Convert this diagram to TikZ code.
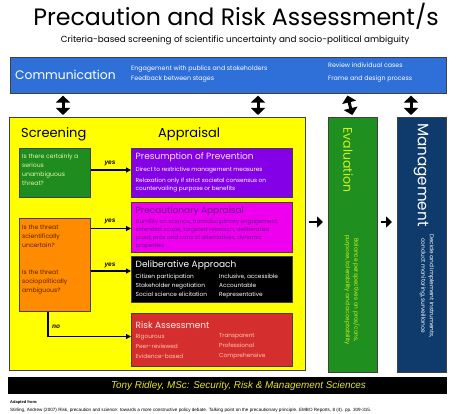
\documentclass[tikz,border=0pt]{standalone}
\usepackage{fontspec}
\setmainfont{Poppins}
\newfontfamily\arialf{Liberation Sans}
\usetikzlibrary{arrows.meta}
\definecolor{commblue}{HTML}{2F6FD8}
\definecolor{ybg}{HTML}{FFFF00}
\definecolor{qgreen}{HTML}{1E8C1E}
\definecolor{qorange}{HTML}{FF8C00}
\definecolor{ppurple}{HTML}{8400E6}
\definecolor{pmag}{HTML}{EE00EE}
\definecolor{rred}{HTML}{D42E2E}
\definecolor{egreen}{HTML}{1F8F1F}
\definecolor{mnavy}{HTML}{0E3A6C}
\definecolor{qtext}{HTML}{E8F5B0}
\definecolor{otext}{HTML}{5A1E00}
\definecolor{magtext}{HTML}{6A1090}
\definecolor{redtext}{HTML}{FFC8B0}
\definecolor{evtext}{HTML}{D0F020}
\definecolor{foottext}{HTML}{E6E62A}
\begin{document}
\begin{tikzpicture}[x=1pt,y=-1pt,
  box/.style={draw=black!75, line width=0.6pt, anchor=north west, inner sep=0pt},
  txt/.style={inner sep=0pt, anchor=west},
  ml/.style={inner sep=0pt, anchor=north west, align=left},
  conn/.style={line width=1.1pt, -{Triangle[width=5pt,length=5pt]}},
  dbl/.style={line width=3pt, {Triangle[width=14pt,length=7pt]}-{Triangle[width=14pt,length=7pt]}, shorten <=2pt, shorten >=2pt},
  fwd/.style={line width=2.6pt, -{Triangle[width=11pt,length=6pt]}, shorten <=3pt, shorten >=5pt},
  yeslbl/.style={inner sep=0pt, font=\arialf\fontsize{6.5}{7}\selectfont\bfseries\itshape}]
\useasboundingbox[fill=white] (0,0) rectangle (474,414);

% title
\node[inner sep=0pt, font=\fontsize{23.7}{26}\selectfont] (title) at (236,16) {Precaution and Risk Assessment/s};
\node[inner sep=0pt, font=\fontsize{8.8}{10}\selectfont] (subtitle) at (235,40) {Criteria-based screening of scientific uncertainty and socio-political ambiguity};

% communication bar
\node[box, fill=commblue, minimum width=436pt, minimum height=36pt] (comm) at (10,57) {};
\node[txt, text=white, font=\fontsize{12.3}{14}\selectfont] (commlbl) at (15,75) {Communication};
\node[txt, text=white, font=\fontsize{6.3}{7}\selectfont] (c1) at (131,69) {Engagement with publics and stakeholders};
\node[txt, text=white, font=\fontsize{6.3}{7}\selectfont] (c2) at (131,79) {Feedback between stages};
\node[txt, text=white, font=\fontsize{6.3}{7}\selectfont] (c3) at (328,65.5) {Review individual cases};
\node[txt, text=white, font=\fontsize{6.3}{7}\selectfont] (c4) at (328,79) {Frame and design process};

% yellow area
\node[box, fill=ybg, minimum width=296pt, minimum height=253pt] (yellow) at (9,117) {};
\node[txt, font=\fontsize{13}{14}\selectfont] (screen) at (21,134) {Screening};
\node[txt, font=\fontsize{13}{14}\selectfont] (appr) at (158,134) {Appraisal};

% screening questions
\node[box, fill=qgreen, minimum width=71pt, minimum height=49pt] (q1) at (19,148) {};
\node[ml, text=qtext, font=\fontsize{6.1}{8.8}\selectfont] (q1t) at (22,154) {Is there certainly a\\serious\\unambiguous\\threat?};
\node[box, fill=qorange, minimum width=71pt, minimum height=93pt] (q2) at (19,218) {};
\node[ml, text=otext, font=\fontsize{6.1}{8.7}\selectfont] (q2t) at (22,225) {Is the threat\\scientifically\\uncertain?};
\node[ml, text=otext, font=\fontsize{6.1}{8.7}\selectfont] (q3t) at (22,270) {Is the threat\\sociopolitically\\ambiguous?};

% appraisal boxes
\node[box, fill=ppurple, minimum width=161pt, minimum height=49pt] (prev) at (131,148) {};
\node[txt, text=white!90!ppurple, font=\fontsize{9}{10}\selectfont] (prevt) at (135.5,157.5) {Presumption of Prevention};
\node[txt, text=white, font=\fontsize{5.8}{6}\selectfont] (prev1) at (135.5,170) {Direct to restrictive management measures};
\node[ml, text=white, font=\fontsize{5.8}{8.2}\selectfont] (prev2) at (135.5,177.5) {Relaxation only if strict societal consensus on\\countervailing purpose or benefits};

\node[box, fill=pmag, minimum width=161pt, minimum height=50pt] (pa) at (131,202) {};
\node[txt, text=magtext, font=\fontsize{9}{10}\selectfont] (pat) at (135.5,211.5) {Precautionary Appraisal};
\node[ml, text=magtext, font=\fontsize{5.6}{7.7}\selectfont] (pab) at (135.5,219.5) {Humility on science, transdisciplinary engagement,\\extended scope, targeted research, deliberated\\proof, pros and cons of alternatives, dynamic\\properties};

\node[box, fill=black, minimum width=161pt, minimum height=46pt] (delib) at (131,256) {};
\node[txt, text=white, font=\fontsize{9}{10}\selectfont] (delt) at (135.5,265.5) {Deliberative Approach};
\node[ml, text=white, font=\fontsize{5.8}{9}\selectfont] (dell) at (135.5,273.5) {Citizen participation\\Stakeholder negotiation\\Social science elicitation};
\node[ml, text=white, font=\fontsize{5.8}{9}\selectfont] (delr) at (219,274) {Inclusive, accessible\\Accountable\\Representative};

\node[box, fill=rred, minimum width=161pt, minimum height=53pt] (risk) at (131,313) {};
\node[txt, text=white!92!rred, font=\fontsize{9}{10}\selectfont] (riskt) at (135.5,325) {Risk Assessment};
\node[ml, text=redtext, font=\fontsize{5.8}{10}\selectfont] (riskl) at (135.5,333.5) {Rigourous\\Peer-reviewed\\Evidence-based};
\node[ml, text=redtext, font=\fontsize{5.8}{10}\selectfont] (riskr) at (219,333.5) {Transparent\\Professional\\Comprehensive};

% screening connectors
\draw[conn] (q1.east |- 0,170) -- (prev.west |- 0,170);
\node[yeslbl] (yes1) at (110,163) {yes};
\draw[conn] (q2.east |- 0,228.5) -- (pa.west |- 0,228.5);
\node[yeslbl] (yes2) at (110,221) {yes};
\draw[conn] (q2.east |- 0,271) -- (delib.west |- 0,271);
\node[yeslbl] (yes3) at (110,265) {yes};
\draw[conn] (q2.south west) ++(29,0) |- (risk.west |- 0,336.5);
\node[yeslbl] (no) at (56,326.5) {no};

% evaluation and management
\node[box, fill=egreen, minimum width=49pt, minimum height=255pt] (eval) at (328,117) {};
\node[inner sep=0pt, anchor=west, rotate=-90, text=evtext, font=\fontsize{12.5}{13}\selectfont] (evalt) at (348,127) {Evaluation};
\node[inner sep=0pt, rotate=-90, align=center, text=evtext, font=\fontsize{5.8}{8.5}\selectfont] (evalb) at (352,290) {Balance perspectives on pros/cons,\\purpose, tolerability and acceptability};

\node[box, fill=mnavy, minimum width=49pt, minimum height=255pt] (mgmt) at (397,117) {};
\node[inner sep=0pt, anchor=west, rotate=-90, text=white, font=\fontsize{15.2}{16}\selectfont] (mgmtt) at (421,123) {Management};
\node[inner sep=0pt, rotate=-90, align=center, text=white, font=\fontsize{5.8}{8.5}\selectfont] (mgmtb) at (427,286) {Decide and implement instruments,\\conduct monitoring, surveillance};

% double arrows from communication
\draw[dbl] (comm.south -| 63,0) -- (yellow.north -| 63,0);
\draw[dbl] (comm.south -| 258,0) -- (yellow.north -| 258,0);
\draw[dbl] (comm.south -| 347,0) -- (eval.north);
\draw[dbl] (comm.south -| 411,0) -- (mgmt.north -| 411,0);

% forward arrows
\draw[fwd] (yellow.east |- 0,222) -- (eval.west |- 0,222);
\draw[fwd] (eval.east |- 0,222) -- (mgmt.west |- 0,222);

% footer
\node[box, fill=black, draw=black, minimum width=438pt, minimum height=16pt] (foot) at (8,377) {};
\node[inner sep=0pt, text=foottext, font=\arialf\fontsize{9.9}{11}\selectfont\itshape] (foott) at (238.5,385.5) {Tony Ridley, MSc: Security, Risk \& Management Sciences};
\node[txt, font=\arialf\fontsize{4}{5}\selectfont\bfseries] (adapt) at (10,402.5) {Adapted from:};
\node[txt, font=\arialf\fontsize{4.6}{5}\selectfont] (cite) at (10,410) {Stirling, Andrew (2007) Risk, precaution and science: towards a more constructive policy debate. Talking point on the precautionary principle. EMBO Reports, 8 (4). pp. 309-315.};
\end{tikzpicture}
\end{document}
